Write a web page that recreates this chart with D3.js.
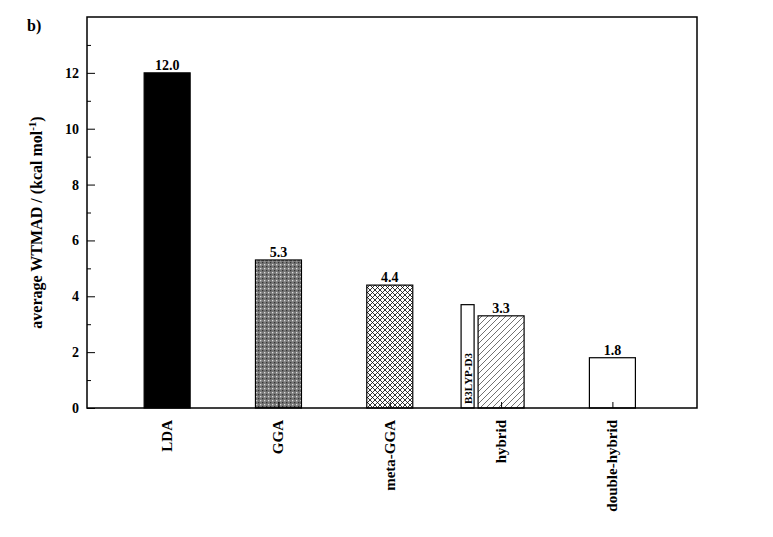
<!DOCTYPE html>
<html lang="en">
<head>
  <meta charset="UTF-8">
  <title>WTMAD</title>
  <script src="https://cdn.jsdelivr.net/npm/d3@7"></script>
  <style>body{margin:0;background:#fff}text{font-family:"Liberation Serif",serif;font-weight:bold}</style>
</head>
<body>
  <svg id="chart" width="773" height="537"></svg>
  <script>
    const categories = ['LDA', 'GGA', 'meta-GGA', 'hybrid', 'double-hybrid'];
    const values = [12.0, 5.3, 4.4, 3.3, 1.8];
    const fills = ['#000', 'url(#dots)', 'url(#cross)', 'url(#hatch)', '#fff'];
    const extraName = 'B3LYP-D3';
    const extraValue = 3.7;
    const yTicks = [0, 2, 4, 6, 8, 10, 12];

    (() => {
      const svg = d3.select('#chart');
      const mLeft = 87, mRight = 697, mTop = 17, mBottom = 408;

      const defs = svg.append('defs');
      let p = defs.append('pattern').attr('id', 'dots').attr('width', 4).attr('height', 4).attr('patternUnits', 'userSpaceOnUse');
      p.append('rect').attr('width', 4).attr('height', 4).attr('fill', '#777');
      p.append('rect').attr('width', 1.3).attr('height', 1.3).attr('fill', '#ddd');
      p.append('rect').attr('x', 2).attr('y', 2).attr('width', 1.3).attr('height', 1.3).attr('fill', '#333');
      p = defs.append('pattern').attr('id', 'cross').attr('width', 5).attr('height', 5).attr('patternUnits', 'userSpaceOnUse');
      p.append('rect').attr('width', 5).attr('height', 5).attr('fill', '#fff');
      p.append('path').attr('d', 'M0 0 L5 5 M5 0 L0 5').attr('stroke', '#000').attr('stroke-width', 0.8);
      p = defs.append('pattern').attr('id', 'hatch').attr('width', 6).attr('height', 6).attr('patternUnits', 'userSpaceOnUse');
      p.append('rect').attr('width', 6).attr('height', 6).attr('fill', '#fff');
      p.append('path').attr('d', 'M0 6 L6 0 M-1 1 L1 -1 M5 7 L7 5').attr('stroke', '#333').attr('stroke-width', 0.7);

      const x = d3.scaleLinear().domain([0.28, 5.76]).range([mLeft, mRight]);
      const y = d3.scaleLinear().domain([0, 14]).range([mBottom, mTop]);
      const bw = 46;

      // bars
      categories.forEach((c, i) => {
        const cx = x(i + 1);
        svg.append('rect').attr('x', cx - bw / 2).attr('y', y(values[i]))
          .attr('width', bw).attr('height', y(0) - y(values[i]))
          .attr('fill', fills[i]).attr('stroke', '#000').attr('stroke-width', 1.2);
        svg.append('text').attr('x', cx).attr('y', y(values[i]) - 3)
          .attr('text-anchor', 'middle').attr('font-size', 14).text(values[i].toFixed(1));
        svg.append('text').attr('transform', `translate(${cx + 5},${mBottom + 12}) rotate(-90)`)
          .attr('text-anchor', 'end').attr('font-size', 15).text(c);
      });

      // B3LYP-D3 reference bar next to hybrid
      const ex = x(4) - bw / 2 - 10;
      svg.append('rect').attr('x', ex - 7).attr('y', y(extraValue)).attr('width', 13)
        .attr('height', y(0) - y(extraValue)).attr('fill', '#fff').attr('stroke', '#000').attr('stroke-width', 1.2);
      svg.append('text').attr('transform', `translate(${ex + 4},${mBottom - 4}) rotate(-90)`)
        .attr('font-size', 11).text(extraName);

      // frame
      svg.append('rect').attr('x', mLeft).attr('y', mTop).attr('width', mRight - mLeft).attr('height', mBottom - mTop)
        .attr('fill', 'none').attr('stroke', '#000').attr('stroke-width', 1.5);

      // y axis
      const yAxis = svg.append('g').attr('transform', `translate(${mLeft},0)`)
        .call(d3.axisLeft(y).tickValues(yTicks).tickSize(-8).tickPadding(8).tickFormat(d3.format('d')));
      yAxis.select('.domain').remove();
      yAxis.selectAll('text').attr('font-size', 14).attr('font-family', 'Liberation Serif').attr('font-weight', 'bold');
      svg.append('g').attr('transform', `translate(${mLeft},0)`)
        .call(d3.axisLeft(y).tickValues(d3.range(1, 14, 2)).tickSize(-4).tickFormat(''))
        .select('.domain').remove();

      // x ticks at categories
      svg.append('g').attr('transform', `translate(0,${mBottom})`)
        .call(d3.axisBottom(x).tickValues([1, 2, 3, 4, 5]).tickSize(-6).tickFormat(''))
        .select('.domain').remove();

      const yl = svg.append('text').attr('transform', `translate(42,${(mTop + mBottom) / 2 + 10}) rotate(-90)`)
        .attr('text-anchor', 'middle').attr('font-size', 16);
      yl.append('tspan').text('average WTMAD / (kcal mol');
      yl.append('tspan').attr('dy', -6).attr('font-size', 11).text('-1');
      yl.append('tspan').attr('dy', 6).text(')');

      svg.append('text').attr('x', 27).attr('y', 31).attr('font-size', 16).text('b)');
    })();
  </script>
</body>
</html>
